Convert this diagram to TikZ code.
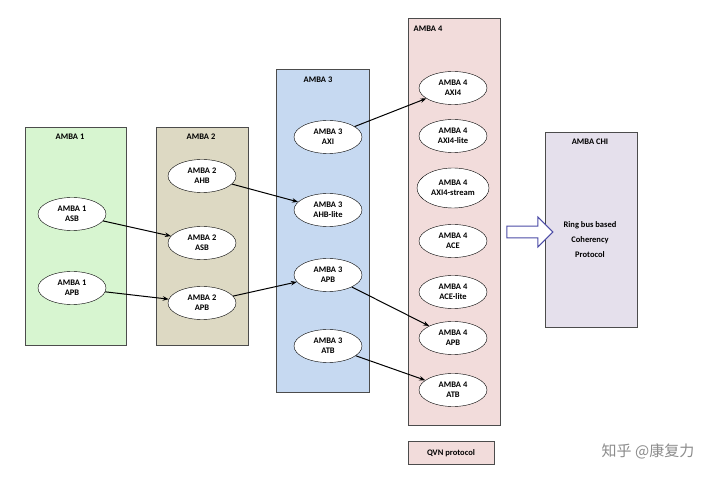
\documentclass[tikz,border=0pt]{standalone}
\usepackage{fontspec}
\setmainfont{Carlito}
\newfontfamily\cjk{Noto Sans CJK SC}
\usetikzlibrary{shapes.geometric,shapes.arrows,arrows.meta}
\definecolor{cA}{HTML}{D7F5D0}
\definecolor{cB}{HTML}{DDD9C3}
\definecolor{cC}{HTML}{C6D9F1}
\definecolor{cD}{HTML}{F2DCDB}
\definecolor{cE}{HTML}{E5E0EC}
\begin{document}
\begin{tikzpicture}[x=1pt,y=-1pt,
 col/.style={draw=black!70,line width=0.5pt},
 el/.style={ellipse,draw,fill=white,minimum width=68pt,minimum height=33pt,inner sep=0pt,font=\bfseries\fontsize{8.5}{10}\selectfont,align=center},
 ttl/.style={font=\bfseries\fontsize{8.5}{10}\selectfont},
 arr/.style={-{Stealth[length=6pt]},line width=1pt}]
\useasboundingbox (0,0) rectangle (721,478);
\fill[white] (0,0) rectangle (721,478);
\draw[col,fill=cA] (25,127) rectangle (126,345);
\draw[col,fill=cB] (156,127) rectangle (248,345);
\draw[col,fill=cC] (276,69) rectangle (369,392);
\draw[col,fill=cD] (408,18) rectangle (500,425);
\draw[col,fill=cE] (545,132) rectangle (637,327);
\node[col,fill=cD,minimum width=86pt,minimum height=23pt,ttl] (qvn) at (451,453) {QVN protocol};
\node[ttl] (t1) at (70,137) {AMBA 1};
\node[ttl] (t2) at (201,137) {AMBA 2};
\node[ttl] (t3) at (318,80) {AMBA 3};
\node[ttl] (t4) at (428,29) {AMBA 4};
\node[ttl] (tc) at (590,142) {AMBA CHI};
\node[ttl,align=center,font=\bfseries\fontsize{8.5}{15}\selectfont] (chi) at (590,240) {Ring bus based\\Coherency\\Protocol};
\node[el] (a1) at (72,214) {AMBA 1\\ASB};
\node[el] (a2) at (72,288) {AMBA 1\\APB};
\node[el] (b1) at (202,176) {AMBA 2\\AHB};
\node[el] (b2) at (202,243) {AMBA 2\\ASB};
\node[el] (b3) at (202,303) {AMBA 2\\APB};
\node[el] (c1) at (328,137) {AMBA 3\\AXI};
\node[el] (c2) at (328,210) {AMBA 3\\AHB-lite};
\node[el] (c3) at (328,275) {AMBA 3\\APB};
\node[el] (c4) at (328,346) {AMBA 3\\ATB};
\node[el] (d1) at (453,88) {AMBA 4\\AXI4};
\node[el] (d2) at (453,136) {AMBA 4\\AXI4-lite};
\node[el,minimum width=72pt,minimum height=40pt] (d3) at (453,188) {AMBA 4\\AXI4-stream};
\node[el] (d4) at (453,241) {AMBA 4\\ACE};
\node[el] (d5) at (453,292) {AMBA 4\\ACE-lite};
\node[el] (d6) at (453,338) {AMBA 4\\APB};
\node[el] (d7) at (453,390) {AMBA 4\\ATB};
\draw[arr] (a1) -- (b2);
\draw[arr] (a2) -- (b3);
\draw[arr] (b1) -- (c2);
\draw[arr] (b3) -- (c3);
\draw[arr] (c1) -- (d1);
\draw[arr] (c3) -- (d6);
\draw[arr] (c4) -- (d7);
\node[single arrow,draw=blue!50!black!70,fill=white,line width=1pt,minimum height=46pt,minimum width=30pt,single arrow head extend=4pt,inner sep=2pt] (ba) at (527,232) {};
\node[text=black!45,font=\cjk\fontsize{15}{17}\selectfont] (wm) at (648,451) {知乎 @康复力};
\end{tikzpicture}
\end{document}
